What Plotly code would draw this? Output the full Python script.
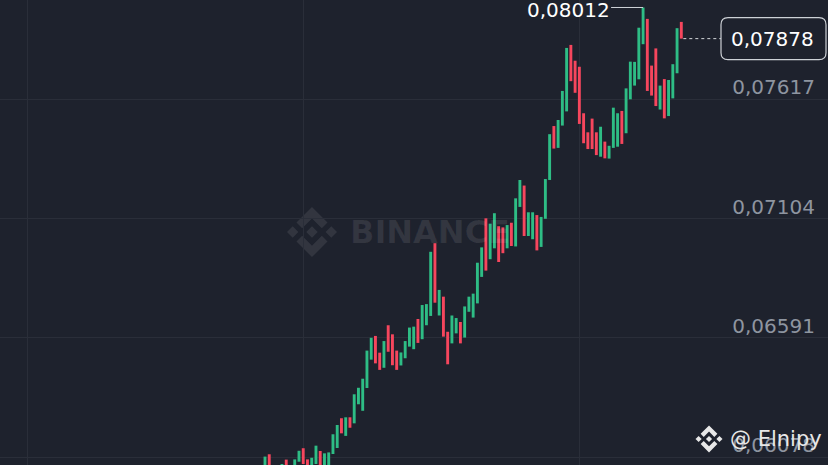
import plotly.graph_objects as go

# candles, oldest first (open / close per bar)
opens = [0.06014, 0.06090, 0.05988, 0.06035, 0.06001, 0.06067, 0.06005, 0.06022, 0.06058, 0.06116,
         0.06068, 0.06031, 0.06048, 0.06104, 0.06035, 0.06035, 0.06091, 0.06117, 0.06245, 0.06169,
         0.06249, 0.06223, 0.06305, 0.06277, 0.06375, 0.06497, 0.06599, 0.06527, 0.06462, 0.06645,
         0.06606, 0.06536, 0.06472, 0.06503, 0.06553, 0.06542, 0.06672, 0.06585, 0.06645, 0.06685,
         0.06998, 0.06687, 0.06768, 0.06617, 0.06567, 0.06610, 0.06659, 0.06592, 0.06703, 0.06678,
         0.06739, 0.06853, 0.07105, 0.06929, 0.06976, 0.07071, 0.07066, 0.06976, 0.07086, 0.06984,
         0.07154, 0.07246, 0.07029, 0.07015, 0.07119, 0.06982, 0.07103, 0.07270, 0.07502, 0.07408,
         0.07504, 0.07565, 0.07851, 0.07783, 0.07757, 0.07557, 0.07475, 0.07534, 0.07475, 0.07370,
         0.07435, 0.07362, 0.07408, 0.07413, 0.07567, 0.07471, 0.07617, 0.07676, 0.07703, 0.07854,
         0.07963, 0.07762, 0.07836, 0.07573, 0.07704, 0.07545, 0.07621, 0.07729, 0.07950]
closes = [0.06080, 0.06014, 0.06031, 0.05997, 0.06048, 0.06014, 0.06040, 0.06068, 0.06105, 0.06048,
          0.06031, 0.06075, 0.06127, 0.06035, 0.06094, 0.06098, 0.06176, 0.06216, 0.06180, 0.06249,
          0.06204, 0.06348, 0.06376, 0.06415, 0.06536, 0.06591, 0.06481, 0.06453, 0.06577, 0.06531,
          0.06473, 0.06453, 0.06528, 0.06577, 0.06635, 0.06639, 0.06569, 0.06732, 0.06736, 0.06961,
          0.06742, 0.06797, 0.06596, 0.06477, 0.06687, 0.06676, 0.06567, 0.06726, 0.06768, 0.06781,
          0.06914, 0.06980, 0.06880, 0.07082, 0.07127, 0.06917, 0.06955, 0.07076, 0.06986, 0.07191,
          0.07270, 0.07029, 0.07131, 0.07131, 0.06967, 0.07111, 0.07274, 0.07467, 0.07405, 0.07528,
          0.07653, 0.07838, 0.07695, 0.07645, 0.07511, 0.07428, 0.07403, 0.07403, 0.07377, 0.07499,
          0.07363, 0.07417, 0.07581, 0.07557, 0.07425, 0.07664, 0.07779, 0.07778, 0.07925, 0.08012,
          0.07653, 0.07633, 0.07588, 0.07676, 0.07535, 0.07700, 0.07768, 0.07923, 0.07878]

price_ticks = [0.06078, 0.06591, 0.07104, 0.07617]
high_price = 0.08012
high_idx = 89
last_price = closes[-1]

GREEN = "#2ebd85"
RED = "#f6465d"
BG = "#1e222d"
GRID = "#2a2e39"
FONT = "DejaVu Sans"


def fmt(v):
    return f"{v:.5f}".replace(".", ",")


# binance mark, unit size, y up
TOP = [(-0.392, 0.152), (0, 0.544), (0.392, 0.152), (0.62, 0.38), (0, 1), (-0.62, 0.38)]
LOGO = [
    TOP,
    [(x, -y) for x, y in TOP],
    [(-1, 0), (-0.772, 0.228), (-0.544, 0), (-0.772, -0.228)],
    [(-0.228, 0), (0, 0.228), (0.228, 0), (0, -0.228)],
    [(1, 0), (0.772, 0.228), (0.544, 0), (0.772, -0.228)],
]


def logo_shapes(cx, cy, r, color, layer):
    out = []
    for poly in LOGO:
        d = "M " + " L ".join(f"{x * r:.2f},{y * r:.2f}" for x, y in poly) + " Z"
        out.append(dict(type="path", path=d, xref="paper", yref="paper",
                        xsizemode="pixel", ysizemode="pixel", xanchor=cx, yanchor=cy,
                        fillcolor=color, line=dict(width=0), layer=layer))
    return out


idx = list(range(len(opens)))
base = [min(o, c) for o, c in zip(opens, closes)]
size = [abs(c - o) for o, c in zip(opens, closes)]
colors = [GREEN if c >= o else RED for o, c in zip(opens, closes)]

fig = go.Figure()
fig.add_trace(go.Bar(x=idx, y=size, base=base, width=0.68,
                     marker=dict(color=colors, line=dict(width=0)), hoverinfo="skip"))

# rounded box for the last price
x0, x1, y0, y1, r = -107, -2, -21, 21, 7
box = (f"M {x0 + r},{y0} L {x1 - r},{y0} Q {x1},{y0} {x1},{y0 + r} L {x1},{y1 - r} "
       f"Q {x1},{y1} {x1 - r},{y1} L {x0 + r},{y1} Q {x0},{y1} {x0},{y1 - r} "
       f"L {x0},{y0 + r} Q {x0},{y0} {x0 + r},{y0} Z")

shapes = logo_shapes(0.3768, 0.501, 25, "rgba(255,255,255,0.09)", "below")
shapes += logo_shapes(0.8563, 0.056, 13.5, "#e8e8e8", "above")
# leader from the high label to the top candle
shapes.append(dict(type="line", xref="x", yref="y", xsizemode="pixel", ysizemode="pixel",
                   xanchor=high_idx, yanchor=high_price, x0=-32, x1=0, y0=0, y1=0,
                   line=dict(color="#cfd3d8", width=1)))
shapes.append(dict(type="line", xref="x", yref="y", xsizemode="pixel", xanchor=idx[-1],
                   x0=2, x1=40, y0=last_price, y1=last_price,
                   line=dict(color="#d5d8dc", width=1, dash="3px,3px")))
shapes.append(dict(type="path", path=box, xref="paper", yref="y", xsizemode="pixel",
                   ysizemode="pixel", xanchor=1, yanchor=last_price,
                   fillcolor=BG, line=dict(color="#cdd1d6", width=1.2)))

annotations = [
    dict(text="<b>BINANCE</b>", xref="paper", yref="paper", x=0.4203, y=0.501,
         xanchor="left", yanchor="middle", showarrow=False,
         font=dict(family=FONT, size=32, color="rgba(255,255,255,0.09)")),
    dict(text=fmt(high_price), x=high_idx, y=high_price, xanchor="right", yanchor="middle",
         xshift=-31, yshift=-3, showarrow=False,
         font=dict(family=FONT, size=20, color="#ffffff")),
    dict(text=fmt(last_price), xref="paper", yref="y", x=1, y=last_price,
         xanchor="right", yanchor="middle", xshift=-12, showarrow=False,
         font=dict(family=FONT, size=20, color="#ffffff")),
    dict(text="@ Elnipy", xref="paper", yref="paper", x=0.8792, y=0.056,
         xanchor="left", yanchor="middle", showarrow=False,
         font=dict(family=FONT, size=21, color="#e8e8e8")),
]

fig.update_layout(
    width=828, height=465, margin=dict(l=0, r=0, t=0, b=0),
    paper_bgcolor=BG, plot_bgcolor=BG, showlegend=False,
    separators=",.", shapes=shapes, annotations=annotations,
)
fig.update_xaxes(range=[-62.38, 132.53], tick0=9, dtick=65, showticklabels=False,
                 showgrid=True, gridcolor=GRID, gridwidth=1, zeroline=False, showline=False)
fig.update_yaxes(range=[0.060438, 0.080442], side="right", tickvals=price_ticks,
                 tickformat=".5f", ticklabelposition="inside top", ticklabelstandoff=10,
                 ticklabelshift=2,
                 tickfont=dict(family=FONT, size=20, color="#8e95a0"),
                 showgrid=True, gridcolor=GRID, gridwidth=1, zeroline=False, showline=False)

# the page body has a default 8px margin; drop it so the chart fills the window
fig.write_html("out.html", config={"displayModeBar": False},
               post_script="document.body.style.margin='0';")
